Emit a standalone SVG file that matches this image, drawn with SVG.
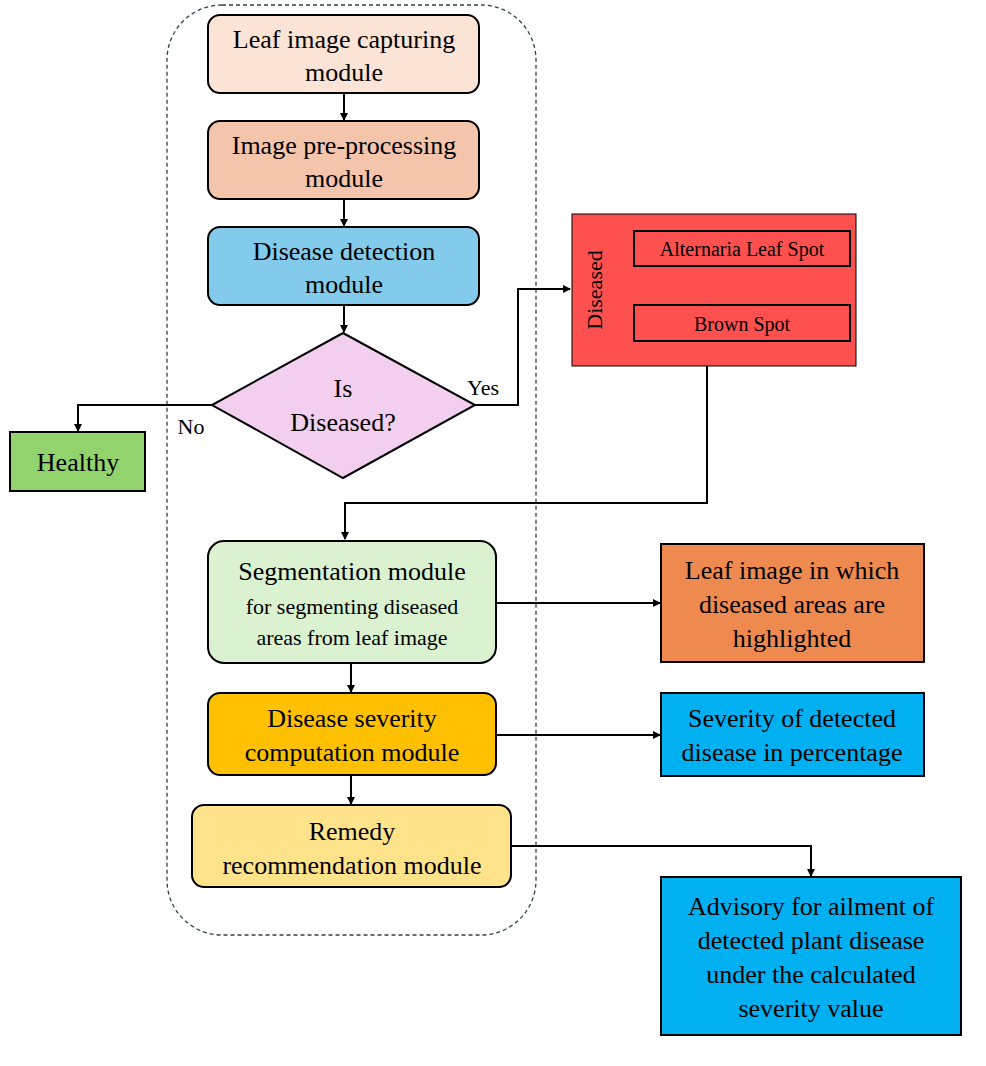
<svg xmlns="http://www.w3.org/2000/svg" width="986" height="1066" viewBox="0 0 986 1066">
<style>
text{font-family:"Liberation Serif","Times New Roman",serif;font-size:26px;fill:#000;text-anchor:middle}
.m{stroke:#000;stroke-width:2}
.s{font-size:22px}
.c{fill:none;stroke:#000;stroke-width:2;marker-end:url(#a)}
</style>
<defs><marker id="a" markerWidth="8" markerHeight="8" refX="7" refY="4" orient="auto" markerUnits="userSpaceOnUse"><path d="M0,0L8,4L0,8z" fill="#000"/></marker></defs>
<rect x="167" y="5" width="369" height="930" rx="55" fill="none" stroke="#2F4050" stroke-width="1.3" stroke-dasharray="4,3"/>
<g id="connectors">
<path class="c" d="M344,93V120"/>
<path class="c" d="M344,199V226"/>
<path class="c" d="M344,305V332"/>
<path class="c" d="M475,405H518V289H570"/>
<path class="c" d="M212,405H78V431"/>
<path class="c" d="M707,366V503H345V539"/>
<path class="c" d="M496,603H660"/>
<path class="c" d="M351,663V692"/>
<path class="c" d="M496,735H660"/>
<path class="c" d="M351,775V804"/>
<path class="c" d="M511,846H811V876"/>
<text x="483" y="395" style="font-size:22px">Yes</text>
<text x="191" y="434" style="font-size:22px">No</text>
</g>
<g id="n1"><rect class="m" x="208" y="15" width="271" height="78" rx="12" fill="#FBE3D6"/><text x="344" y="48">Leaf image capturing</text><text x="344" y="81">module</text></g>
<g id="n2"><rect class="m" x="208" y="121" width="271" height="78" rx="12" fill="#F4C4AB"/><text x="344" y="154">Image pre-processing</text><text x="344" y="187">module</text></g>
<g id="n3"><rect class="m" x="208" y="227" width="271" height="78" rx="12" fill="#83CBEB"/><text x="344" y="260">Disease detection</text><text x="344" y="293">module</text></g>
<g id="n4"><path class="m" d="M343,333L475,405L343,478L212,405Z" fill="#F2CFEE"/><text x="343" y="397">Is</text><text x="343" y="431">Diseased?</text></g>
<g id="n5"><rect class="m" x="10" y="432" width="135" height="59" fill="#92D36E"/><text x="78" y="471">Healthy</text></g>
<g id="n6"><rect x="572" y="214" width="284" height="152" fill="#FF5050" stroke="#000" stroke-width="1"/>
<text transform="translate(602,290) rotate(-90)" style="font-size:22px">Diseased</text>
<rect class="m" x="634" y="231" width="216" height="35" fill="none"/><text x="742" y="256" class="s" style="font-size:20px">Alternaria Leaf Spot</text>
<rect class="m" x="634" y="305" width="216" height="36" fill="none"/><text x="742" y="331" style="font-size:20px">Brown Spot</text></g>
<g id="n7"><rect class="m" x="208" y="541" width="288" height="122" rx="16" fill="#DAF2D0"/><text x="352" y="580">Segmentation module</text><text x="352" y="614" class="s">for segmenting diseased</text><text x="352" y="645" class="s">areas from leaf image</text></g>
<g id="n8"><rect class="m" x="661" y="544" width="263" height="118" fill="#EE8A50"/><text x="792" y="579">Leaf image in which</text><text x="792" y="613">diseased areas are</text><text x="792" y="647">highlighted</text></g>
<g id="n9"><rect class="m" x="208" y="693" width="288" height="82" rx="12" fill="#FFC000"/><text x="352" y="727">Disease severity</text><text x="352" y="761">computation module</text></g>
<g id="n10"><rect class="m" x="661" y="693" width="263" height="83" fill="#00B0F0"/><text x="792" y="727">Severity of detected</text><text x="792" y="761">disease in percentage</text></g>
<g id="n11"><rect class="m" x="192" y="805" width="319" height="82" rx="12" fill="#FFE38A"/><text x="352" y="840">Remedy</text><text x="352" y="874">recommendation module</text></g>
<g id="n12"><rect class="m" x="661" y="877" width="300" height="158" fill="#00B0F0"/><text x="811" y="915">Advisory for ailment of</text><text x="811" y="949">detected plant disease</text><text x="811" y="983">under the calculated</text><text x="811" y="1017">severity value</text></g>
</svg>
